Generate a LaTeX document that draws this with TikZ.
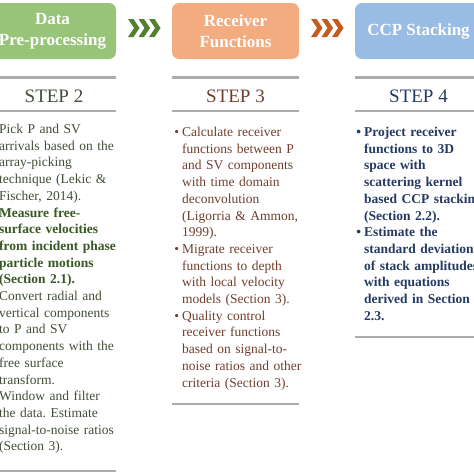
\documentclass[tikz,border=0pt]{standalone}
\usepackage{fontspec}
\setmainfont{Liberation Serif}
\usepackage{xcolor}
\definecolor{boxgreen}{RGB}{152,196,122}
\definecolor{boxorange}{RGB}{242,172,128}
\definecolor{boxblue}{RGB}{152,188,228}
\definecolor{chevgreen}{RGB}{80,128,48}
\definecolor{chevorange}{RGB}{196,92,30}
\definecolor{txtgreen}{RGB}{64,78,54}
\definecolor{boldgreen}{RGB}{54,88,34}
\definecolor{txtbrown}{RGB}{112,62,44}
\definecolor{txtblue}{RGB}{36,58,98}
\definecolor{rulegray}{RGB}{172,172,172}
\frenchspacing

\newcommand{\bul}{\leavevmode\llap{\textbullet\hspace{3pt}}}
\newcommand{\chevs}[3]{%
  \foreach \i in {0,1,2}
    \fill[#3, shift={(#1+\i*10.5,#2)}] (0,0) -- (5.5,0) -- (11.5,9) -- (5.5,18) -- (0,18) -- (6,9) -- cycle;}

\begin{document}
\begin{tikzpicture}[x=1pt, y=-1pt,
  stage/.style={rounded corners=7pt, minimum width=127pt, minimum height=56pt,
    text=white, align=center, font=\fontsize{17}{21}\selectfont\bfseries},
  steplabel/.style={font=\fontsize{19}{22}\selectfont},
  steptext/.style={anchor=north west, align=left, inner sep=0pt, text width=160pt,
    font=\fontsize{13.5}{16.7}\selectfont},
  rule/.style={draw=rulegray, line width=#1},
  rule/.default=2pt]
  \useasboundingbox (0,0) rectangle (474,474);
  \clip (0,0) rectangle (474,474);

  % top row
  \node[stage, fill=boxgreen] (prep) at (52.5,31) {Data\\Pre-processing};
  \node[stage, fill=boxorange] (recv) at (235.5,31) {Receiver\\Functions};
  \node[stage, fill=boxblue] (ccp) at (418.5,31) {CCP Stacking};
  \chevs{128}{19}{chevgreen}
  \chevs{311}{19}{chevorange}

  % step headings
  \node[steplabel, text=txtgreen] (step2) at (54,96) {STEP 2};
  \node[steplabel, text=txtbrown] (step3) at (235.5,96) {STEP 3};
  \node[steplabel, text=txtblue] (step4) at (418.5,96) {STEP 4};

  \draw[rule=3pt] (-11,77) -- (116,77);
  \draw[rule=3pt] (172,77) -- (299,77);
  \draw[rule=3pt] (355,77) -- (482,77);
  \draw[rule] (-11,111) -- (116,111);
  \draw[rule] (172,111) -- (299,111);
  \draw[rule] (355,111) -- (482,111);

  % column texts
  \node[steptext, text=txtgreen] (text2) at (-1,124) {%
    Pick P and SV\\arrivals based on the\\array-picking\\technique (Lekic \&\\Fischer, 2014).\\
    \textcolor{boldgreen}{\textbf{Measure free-}}\\\textcolor{boldgreen}{\textbf{surface velocities}}\\
    \textcolor{boldgreen}{\textbf{from incident phase}}\\\textcolor{boldgreen}{\textbf{particle motions}}\\
    \textcolor{boldgreen}{\textbf{(Section 2.1).}}\\
    Convert radial and\\vertical components\\to P and SV\\components with the\\free surface\\transform.\\
    Window and filter\\the data. Estimate\\signal-to-noise ratios\\(Section 3).};
  \node[steptext, text=txtbrown] (text3) at (182,127) {%
    \bul Calculate receiver\\functions between P\\and SV components\\with time domain\\deconvolution\\(Ligorria \& Ammon,\\1999).\\
    \bul Migrate receiver\\functions to depth\\with local velocity\\models (Section 3).\\
    \bul Quality control\\receiver functions\\based on signal-to-\\noise ratios and other\\criteria (Section 3).};
  \node[steptext, text=txtblue, font=\fontsize{13.5}{16.7}\selectfont\bfseries] (text4) at (364,127) {%
    \bul Project receiver\\functions to 3D\\space with\\scattering kernel\\based CCP stacking\\(Section 2.2).\\
    \bul Estimate the\\standard deviation\\of stack amplitudes\\with equations\\derived in Section\\2.3.};

  \draw[rule] (-11,471) -- (116,471);
  \draw[rule] (172,404) -- (299,404);
  \draw[rule] (355,337) -- (482,337);
\end{tikzpicture}
\end{document}
